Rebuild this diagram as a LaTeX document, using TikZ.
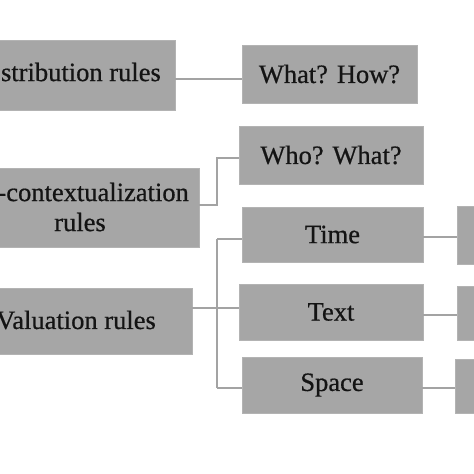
\documentclass[tikz,border=0pt]{standalone}
\usepackage{fontspec}
\setmainfont{Liberation Serif}[FakeBold=0.6]
\definecolor{boxgray}{HTML}{A6A6A6}
\definecolor{linegray}{HTML}{A3A3A3}
\definecolor{inkc}{HTML}{141414}
\begin{document}
\begin{tikzpicture}[x=1pt,y=-1pt,
  gbox/.style={fill=boxgray,draw=boxgray!85!white,line width=0.6pt,inner sep=0pt,text=inkc,
    font=\fontsize{26.5}{30}\selectfont},
  lbl/.style={inner sep=0pt,text=inkc,font=\fontsize{26.5}{30}\selectfont},
  conn/.style={draw=linegray,line width=1.6pt}]
\useasboundingbox (0,0) rectangle (474,474);
\begin{scope}
\clip (0,0) rectangle (474,474);
% boxes
\node[gbox,minimum width=215pt,minimum height=70pt] (dist) at (67.5,75) {};
\node[gbox,minimum width=175pt,minimum height=58pt] (what) at (329.5,74) {What? How?};
\node[gbox,minimum width=184pt,minimum height=58pt] (who) at (331,155) {Who? What?};
\node[gbox,minimum width=239pt,minimum height=79pt] (ctx) at (79.5,207.5) {};
\node[gbox,minimum width=181pt,minimum height=55pt] (time) at (332.5,234.5) {Time};
\node[gbox,minimum width=237pt,minimum height=66pt] (val) at (73.5,321) {};
\node[gbox,minimum width=184pt,minimum height=56pt] (text) at (331,312) {Text};
\node[gbox,minimum width=180pt,minimum height=56pt] (space) at (332,385) {Space};
\node[gbox,minimum width=50pt,minimum height=58pt] (r1) at (482,235) {};
\node[gbox,minimum width=50pt,minimum height=54pt] (r2) at (482,313) {};
\node[gbox,minimum width=52pt,minimum height=54pt] (r3) at (481,386) {};
% labels of cropped boxes
\node[lbl,anchor=east] (distl) at (161,72) {stribution rules};
\node[lbl,anchor=east] (ctxl1) at (189,192) {-contextualization};
\node[lbl] (ctxl2) at (80,222) {rules};
\node[lbl,anchor=east] (vall) at (156,320) {Valuation rules};
\end{scope}
% junctions
\coordinate (j1) at (217,205);
\coordinate (jt) at (217,239);
\coordinate (jb) at (217,388);
% connectors
\draw[conn] (dist.east |- 0,79) -- (what.west |- 0,79);
\draw[conn] (ctx.east |- j1) -- (j1) -- (j1 |- 0,158) -- (who.west |- 0,158);
\draw[conn] (val.east |- 0,308) -- (text.west |- 0,308);
\draw[conn] (jt) -- (jb);
\draw[conn] (jt) -- (time.west |- jt);
\draw[conn] (jb) -- (space.west |- jb);
\draw[conn] (time.east |- 0,237) -- (r1.west |- 0,237);
\draw[conn] (text.east |- 0,315) -- (r2.west |- 0,315);
\draw[conn] (space.east |- 0,388) -- (r3.west |- 0,388);
\end{tikzpicture}
\end{document}
